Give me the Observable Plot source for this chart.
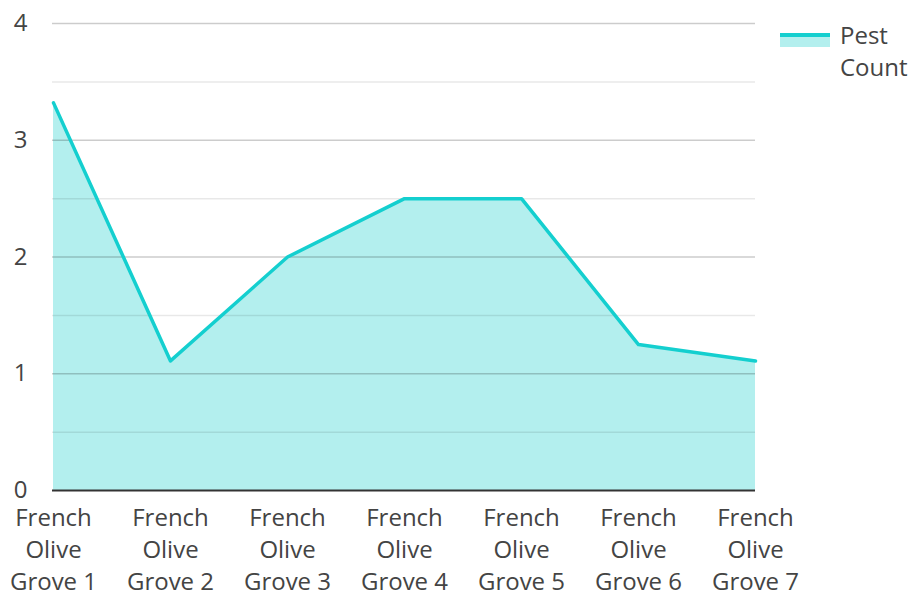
<!DOCTYPE html>
<html><head><meta charset="utf-8">
<script src="https://cdn.jsdelivr.net/npm/d3@7"></script>
<script src="https://cdn.jsdelivr.net/npm/@observablehq/plot@0.6"></script>
<style>
body{margin:0;background:#fff;font-family:"Open Sans",sans-serif;}
#wrap{position:relative;width:913px;height:594px;}
#legend{position:absolute;left:780px;top:19px;display:flex;align-items:flex-start;font-size:24px;color:#444;line-height:32px;}
#sw{width:50px;height:10px;border-top:4px solid #14cfcf;background:#b3efee;margin-top:14px;margin-right:10px;}
</style></head>
<body><div id="wrap"><div id="legend"><div id="sw"></div><div>Pest<br>Count</div></div></div>
<script>
const groves = ["French Olive Grove 1","French Olive Grove 2","French Olive Grove 3","French Olive Grove 4","French Olive Grove 5","French Olive Grove 6","French Olive Grove 7"];
const pestCount = [3.32, 1.11, 2.0, 2.5, 2.5, 1.25, 1.11];
const majorTicks = [0,1,2,3,4];
const minorTicks = [0.5,1.5,2.5,3.5];
const data = groves.map((g,i)=>({grove:g, value:pestCount[i]}));
const chart = Plot.plot({
  width:913, height:594,
  marginLeft:52, marginRight:158, marginTop:23, marginBottom:104,
  style:{fontFamily:"Open Sans", fontSize:"24px", color:"#444", background:"#fff", overflow:"visible"},
  x:{type:"point", domain:groves, padding:0},
  y:{domain:[0,4]},
  marks:[
    Plot.areaY(data,{x:"grove", y:"value", fill:"#b3efee"}),
    Plot.ruleY(minorTicks,{stroke:"#000", strokeOpacity:0.09, strokeWidth:1.5}),
    Plot.ruleY(majorTicks.slice(1),{stroke:"#000", strokeOpacity:0.2, strokeWidth:1.5}),
    Plot.lineY(data,{x:"grove", y:"value", stroke:"#14cfcf", strokeWidth:3.5}),
    Plot.ruleY([0],{stroke:"#333", strokeWidth:2}),
    Plot.axisY({ticks:majorTicks, tickSize:0, tickPadding:32, textAnchor:"middle", label:null, fill:"#444", fontSize:24, tickFormat:d=>String(d)}),
    Plot.axisX({tickSize:0, tickPadding:13, label:null, lineHeight:1.333, fill:"#444", fontSize:24, tickFormat:d=>d.replace(" Olive ","\nOlive\n")})
  ]
});
document.getElementById("wrap").prepend(chart);
</script></body></html>
